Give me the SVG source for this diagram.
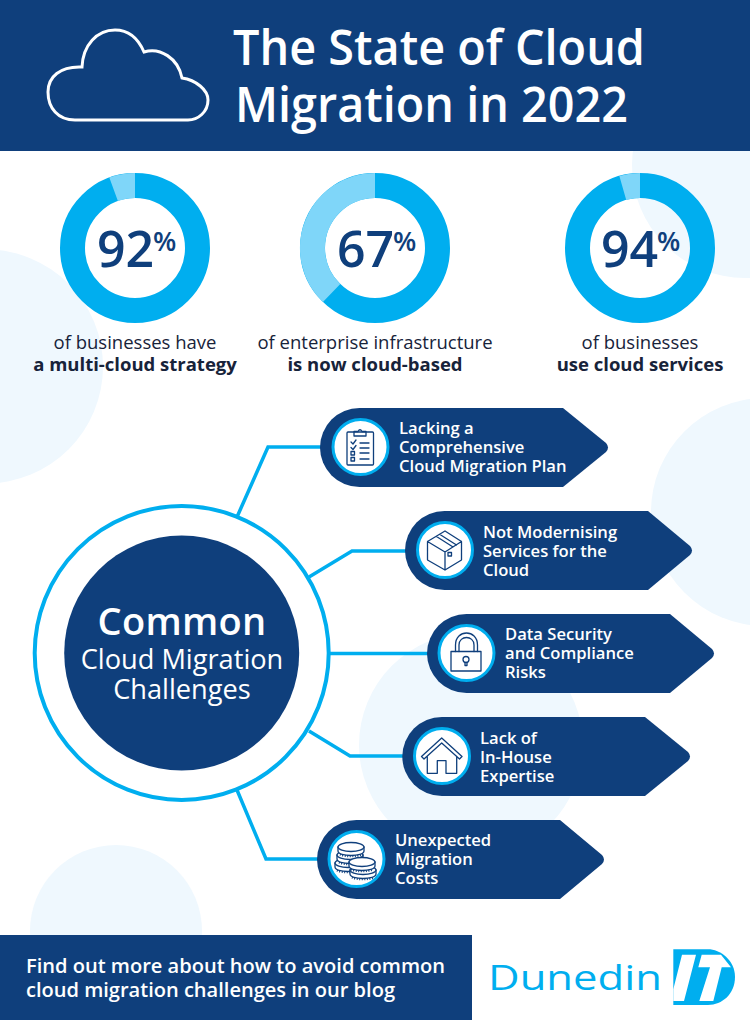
<svg xmlns="http://www.w3.org/2000/svg" width="750" height="1020" viewBox="0 0 750 1020">
<style>
.f{font-family:"Open Sans","Liberation Sans",sans-serif}
.bg{fill:#eff8fe}
.navy{fill:#0f3f7c}
.arc{fill:none;stroke-width:25}
.c{stroke:#00aeef}.l{stroke:#7fd6f9}
.num{font-size:50px;font-weight:600;fill:#0f3f7c}
.pct{font-size:27px;font-weight:600;fill:#0f3f7c}
.cap{font-size:18.500px;fill:#17233a;text-anchor:middle}
.capb{font-size:18.500px;font-weight:700;fill:#17233a;text-anchor:middle}
.lab{font-size:16.600px;font-weight:600;fill:#fff}
.ic{fill:#fff;stroke:#00aeef;stroke-width:3}
.g{fill:none;stroke:#0f3f7c;stroke-width:1.300;stroke-linejoin:round;stroke-linecap:round}
.con{fill:none;stroke:#00aeef;stroke-width:3.500;stroke-linejoin:miter}
</style>
<defs>
<g id="coin" class="g"><path d="M-13,0V4C-13,10 13,10 13,4V0" fill="#fff"/><ellipse rx="13" ry="4.500" fill="#fff"/><path d="M-11,7.500C-6,10 6,10 11,7.500" stroke-width="2" stroke-dasharray="1 1.500" stroke-linecap="butt"/></g>
</defs>
<rect width="750" height="1020" fill="#fff"/>
<circle class="bg" cx="-14" cy="366.500" r="117"/>
<circle class="bg" cx="745" cy="165" r="113"/>
<circle class="bg" cx="765" cy="512" r="114"/>
<circle class="bg" cx="471" cy="745" r="112"/>
<circle class="bg" cx="116" cy="931" r="86"/>
<g id="header">
<rect class="navy" width="750" height="151"/>
<path d="M75,120C58,120 48,108 48,92C48,77 60,66 82,67C83,45 97,30 115,30C128,30 138,38 144,52C160,47 178,58 182,78C196,80 208,90 208,100C208,112 198,120 188,120Z" fill="none" stroke="#fff" stroke-width="3"/>
<text class="f" x="233" y="65" font-size="49" font-weight="600" fill="#fff" textLength="412" lengthAdjust="spacingAndGlyphs">The State of Cloud</text>
<text class="f" x="235" y="122" font-size="49" font-weight="600" fill="#fff" textLength="393" lengthAdjust="spacingAndGlyphs">Migration in 2022</text>
</g>
<g id="stat-92">
<circle class="arc c" cx="135" cy="248" r="62.5"/>
<path class="arc l" d="M135,185.500A62.500,62.500 0 0 0 113.600,189.300"/>
<text class="f num" x="97" y="267">92</text><text class="f pct" x="153" y="251">%</text>
<text class="f cap" x="135" y="349">of businesses have</text>
<text class="f capb" x="135" y="371">a multi-cloud strategy</text>
</g>
<g id="stat-67">
<circle class="arc c" cx="375" cy="248" r="62.5"/>
<path class="arc l" d="M375,185.500A62.500,62.500 0 0 0 331.600,293"/>
<text class="f num" x="337" y="267">67</text><text class="f pct" x="393" y="251">%</text>
<text class="f cap" x="375" y="349">of enterprise infrastructure</text>
<text class="f capb" x="375" y="371">is now cloud-based</text>
</g>
<g id="stat-94">
<circle class="arc c" cx="640" cy="248" r="62.5"/>
<path class="arc l" d="M640,185.500A62.500,62.500 0 0 0 622.800,187.900"/>
<text class="f num" x="601" y="267">94</text><text class="f pct" x="657" y="251">%</text>
<text class="f cap" x="640" y="349">of businesses</text>
<text class="f capb" x="640" y="371">use cloud services</text>
</g>
<g id="connectors">
<path class="con" d="M237,517L268,447H322"/>
<path class="con" d="M309,577L352,551H407"/>
<path class="con" d="M329,653.500H429"/>
<path class="con" d="M309,731L350,756H405"/>
<path class="con" d="M237,790L266,859H320"/>
</g>
<g id="hub">
<circle cx="181.700" cy="653" r="147" fill="none" stroke="#00aeef" stroke-width="4"/>
<circle class="navy" cx="181.700" cy="653" r="117.500"/>
<text class="f" x="182" y="634.500" font-size="38" font-weight="600" fill="#fff" text-anchor="middle" letter-spacing=".3">Common</text>
<text class="f" x="182" y="668.500" font-size="27.200" fill="#fff" text-anchor="middle">Cloud Migration</text>
<text class="f" x="182" y="698.500" font-size="27.200" fill="#fff" text-anchor="middle">Challenges</text>
</g>
<g id="node-plan">
<path class="navy" d="M359.500,408H563L606,443Q610,447.500 606,452L563,487H359.500A39.500,39.500 0 0 1 359.500,408Z"/>
<circle class="ic" cx="360.500" cy="447" r="27.500"/>
<g class="g"><rect x="347" y="432" width="26.500" height="33" rx="1"/><path d="M354,436V431.500H358Q360,428 362,431.500H366V436Z"/><path d="M351,442L353,444L356,440M351,447.500L353,449.500L356,445.500M360,443H369M360,448H369M360,453H369M360,459H369"/><rect x="351" y="451.500" width="3.500" height="3.500"/><rect x="351" y="457.500" width="3.500" height="3.500"/></g>
<text class="f lab" x="399" y="434">Lacking a</text><text class="f lab" x="399" y="453">Comprehensive</text><text class="f lab" x="399" y="472">Cloud Migration Plan</text>
</g>
<g id="node-modernise">
<path class="navy" d="M444.500,511H648L690,546Q694,550.500 690,555L648,590H444.500A39.500,39.500 0 0 1 444.500,511Z"/>
<circle class="ic" cx="445" cy="550" r="27.500"/>
<g class="g"><path d="M427.500,541.500L445,531L461.500,541.500V560L445,570L427.500,560ZM427.500,541.500L445,552L461.500,541.500M445,552V570M436.500,536.500L453,547M440,534.500L456.500,545"/><rect x="448" y="552.500" width="3.500" height="3.500"/></g>
<text class="f lab" x="483" y="538">Not Modernising</text><text class="f lab" x="483" y="557">Services for the</text><text class="f lab" x="483" y="576">Cloud</text>
</g>
<g id="node-security">
<path class="navy" d="M466.500,614H670L712,649Q716,653.500 712,658L670,693H466.500A39.500,39.500 0 0 1 466.500,614Z"/>
<circle class="ic" cx="466.500" cy="653" r="27.500"/>
<g class="g"><rect x="451" y="651.500" width="30" height="19.500"/><path d="M455.500,651.500V645C455.500,629 477.500,629 477.500,645V651.500M459,651.500V645C459,635 474,635 474,645V651.500"/><circle cx="466" cy="659.500" r="3"/><path d="M465,662.500V665.500H467V662.500"/></g>
<text class="f lab" x="505" y="640">Data Security</text><text class="f lab" x="505" y="659">and Compliance</text><text class="f lab" x="505" y="678">Risks</text>
</g>
<g id="node-expertise">
<path class="navy" d="M441.800,717H645L688,752Q692,756.500 688,761L645,796H441.800A39.500,39.500 0 0 1 441.800,717Z"/>
<circle class="ic" cx="442" cy="756" r="27.500"/>
<g class="g"><path d="M421.500,756.500L441.700,738L462,756.500L459.500,759L441.700,743L424,759ZM427.300,757V773.300H437.300V760.700H446V773.300H456.700V757"/></g>
<text class="f lab" x="480" y="744">Lack of</text><text class="f lab" x="480" y="763">In-House</text><text class="f lab" x="480" y="782">Expertise</text>
</g>
<g id="node-costs">
<path class="navy" d="M356.500,820H560L602,855Q606,859.500 602,864L560,899H356.500A39.500,39.500 0 0 1 356.500,820Z"/>
<circle class="ic" cx="356.500" cy="859" r="27.500"/>
<use href="#coin" x="348" y="863"/><use href="#coin" x="350" y="855"/><use href="#coin" x="351" y="847"/><use href="#coin" x="363" y="870"/><use href="#coin" x="362" y="862"/>
<text class="f lab" x="395" y="846">Unexpected</text><text class="f lab" x="395" y="865">Migration</text><text class="f lab" x="395" y="884">Costs</text>
</g>
<g id="footer">
<rect class="navy" y="935" width="472" height="85"/>
<text class="f" x="26" y="973" font-size="20" font-weight="600" fill="#fff" textLength="419" lengthAdjust="spacingAndGlyphs">Find out more about how to avoid common</text>
<text class="f" x="26" y="997" font-size="20" font-weight="600" fill="#fff" textLength="369" lengthAdjust="spacingAndGlyphs">cloud migration challenges in our blog</text>
</g>
<g id="logo">
<text x="488" y="990" font-family="'Open Sans','Liberation Sans',sans-serif" font-size="35" fill="#00aeef" textLength="174" lengthAdjust="spacingAndGlyphs">Dunedin</text>
<path fill="#00aeef" d="M673.300,949.300H708C720,949.300 735,960 735,977C735,994 722,1005 708,1005H673.300Z"/>
<path fill="#fff" d="M682,954.700H696L684,1001H673.300V989.300ZM701.700,954.700H721L731,967.300H721.700L713.300,1001H699.300L710,967.300H698.300Z"/>
</g>
</svg>
